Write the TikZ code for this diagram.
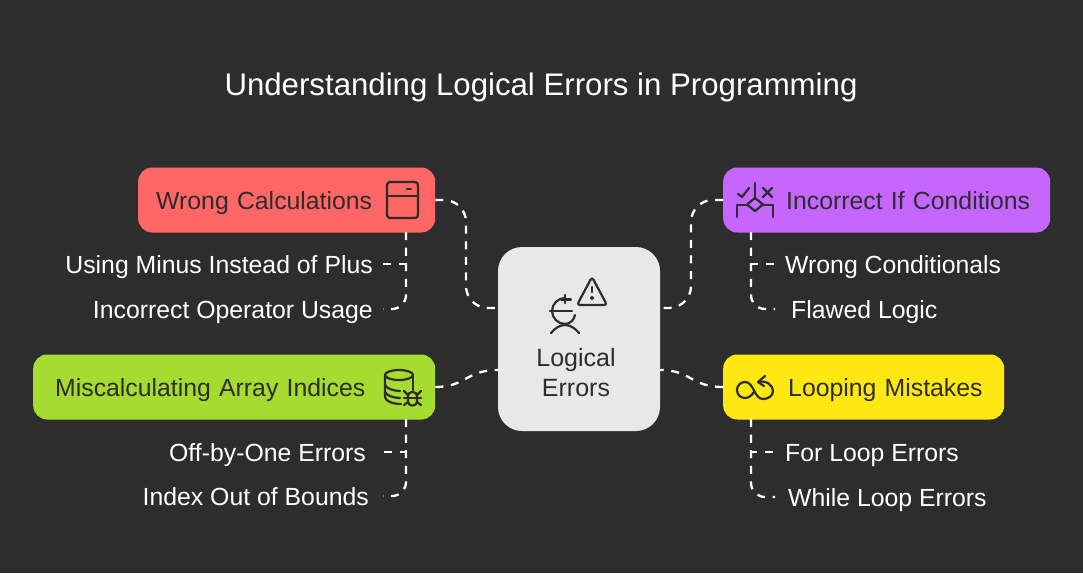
\documentclass[tikz,border=0pt]{standalone}
\usepackage{fontspec}
\setmainfont{Liberation Sans}
\usetikzlibrary{positioning, calc}
\definecolor{bgdark}{HTML}{2D2D2D}
\definecolor{redbox}{HTML}{FF6666}
\definecolor{purplebox}{HTML}{C566FF}
\definecolor{greenbox}{HTML}{A6DB2F}
\definecolor{yellowbox}{HTML}{FFE711}
\definecolor{greybox}{HTML}{E8E8E8}

\begin{document}
\begin{tikzpicture}[
    x=1pt, y=-1pt,
    box/.style={rectangle, rounded corners=14pt, minimum height=65pt, anchor=west, align=left, text=bgdark, inner xsep=0pt, inner ysep=0pt, font=\fontsize{24.8}{24.8}\selectfont, text height=18pt, text depth=0pt},
    centerbox/.style={rectangle, rounded corners=24pt, fill=greybox, minimum width=162pt, minimum height=184pt, inner sep=0pt},
    sublabel/.style={text=white, font=\fontsize{24.8}{24.8}\selectfont, text height=18pt, text depth=0pt, inner ysep=0pt},
    conn/.style={white, line width=2.3pt, dash pattern=on 8pt off 7.6pt},
    icon/.style={bgdark, line width=2.2pt, line cap=round, line join=round}
]
    \fill[bgdark] (0,0) rectangle (1083,573);
    \useasboundingbox (0,0) rectangle (1083,573);

    \node[text=white, font=\fontsize{31.2}{31.2}\selectfont, text height=22pt, text depth=0pt, inner sep=0pt] (title) at (541,84) {Understanding Logical Errors in Programming};

    \node[centerbox] (logical) at (579,339) {};
    \node[text=bgdark, align=center, font=\fontsize{25}{30}\selectfont, inner sep=0pt] (logicaltext) at (576,373) {Logical\\Errors};

    \node[box, fill=redbox, text width=297pt] (wrong) at (138,200) {\hspace*{18pt}Wrong Calculations};
    \node[box, fill=purplebox, text width=327pt] (incorrect) at (723,200) {\hspace*{63pt}Incorrect If Conditions};
    \node[box, fill=greenbox, text width=402pt] (array) at (33,387) {\hspace*{22pt}Miscalculating Array Indices};
    \node[box, fill=yellowbox, text width=281pt] (looping) at (723,387) {\hspace*{65pt}Looping Mistakes};

    \node[sublabel, anchor=east, inner xsep=10pt] (minus) at (383,264) {Using Minus Instead of Plus};
    \node[sublabel, anchor=east, inner xsep=10pt] (operator) at (383,309) {Incorrect Operator Usage};
    \node[sublabel, anchor=east, inner xsep=17pt] (offone) at (383,452) {Off-by-One Errors};
    \node[sublabel, anchor=east, inner xsep=14pt] (bounds) at (383,496) {Index Out of Bounds};
    \node[sublabel, anchor=west, inner xsep=10pt] (conditionals) at (775,264) {Wrong Conditionals};
    \node[sublabel, anchor=west, inner xsep=16pt] (flawed) at (775,309) {Flawed Logic};
    \node[sublabel, anchor=west, inner xsep=10pt] (forloop) at (775,452) {For Loop Errors};
    \node[sublabel, anchor=west, inner xsep=13pt] (whileloop) at (775,497) {While Loop Errors};

    \coordinate (wrongbend) at (466,254);
    \coordinate (incorrectbend) at (691,254);
    \coordinate (logicalNW) at (498,308);
    \coordinate (logicalSW) at (498,370);
    \coordinate (logicalNE) at (660,308);
    \coordinate (logicalSE) at (660,370);
    \coordinate (wrongdrop) at (406,232);
    \coordinate (arraydrop) at (406,419);
    \coordinate (incorrectdrop) at (751,232);
    \coordinate (loopingdrop) at (751,419);

    \draw[conn, rounded corners=22pt] (wrong.east) -| (wrongbend) |- (logicalNW);
    \draw[conn, rounded corners=22pt] (incorrect.west) -| (incorrectbend) |- (logicalNE);
    \draw[conn] (array.east) .. controls (466,387) and (466,370) .. (logicalSW);
    \draw[conn] (looping.west) .. controls (691,387) and (691,370) .. (logicalSE);

    \draw[conn] (wrongdrop) |- (minus.east);
    \draw[conn, rounded corners=14pt] (wrongdrop) |- (operator.east);
    \draw[conn] (arraydrop) |- (offone.east);
    \draw[conn, rounded corners=14pt] (arraydrop) |- (bounds.east);
    \draw[conn] (incorrectdrop) |- (conditionals.west);
    \draw[conn, rounded corners=14pt] (incorrectdrop) |- (flawed.west);
    \draw[conn] (loopingdrop) |- (forloop.west);
    \draw[conn, rounded corners=14pt] (loopingdrop) |- (whileloop.west);

    % fridge
    \draw[icon, rounded corners=3pt] (387,182) rectangle (418,218);
    \draw[icon] (387,196) -- (418,196);
    \draw[icon] (407,189) -- (411,189);

    % warning and person
    \draw[icon, rounded corners=3pt] (592,277) -- (607,305) -- (577,305) -- cycle;
    \draw[icon] (592,287) -- (592,292);
    \fill[bgdark] (592,298) circle[radius=2pt];
    \draw[icon] (565,298) .. controls (558,298) and (552,304) .. (552,311) .. controls (552,318) and (558,324) .. (565,324) .. controls (570,324) and (574,320) .. (575,315);
    \draw[icon] (550,311) -- (572,311);
    \draw[icon] (565,295) -- (565,303);
    \draw[icon] (561,299.5) -- (571,299.5);
    \draw[icon] (551,333) .. controls (555,328) and (560,325) .. (565,325) .. controls (570,325) and (575,328) .. (579,333);

    % condition fork
    \draw[icon] (755,183) -- (755,198);
    \draw[icon] (738,194) -- (742,197) -- (749,188);
    \draw[icon] (763,188) -- (772,197);
    \draw[icon] (772,188) -- (763,197);
    \draw[icon] (755,198) -- (763,204.5) -- (755,211) -- (747,204.5) -- cycle;
    \draw[icon] (737,217) -- (737,205) -- (747,205);
    \draw[icon] (773,217) -- (773,205) -- (763,205);

    % database and bug
    \draw[icon] (399,375) ellipse[x radius=14pt, y radius=5pt];
    \draw[icon] (385,375) -- (385,397) .. controls (385,401) and (393,404) .. (401,404);
    \draw[icon] (413,375) -- (413,390);
    \draw[icon] (385,385) .. controls (386,388) and (393,391) .. (400,391);
    \draw[icon] (385,392) .. controls (386,395) and (393,398) .. (400,398);
    \draw[icon, rounded corners=4pt] (408,392) -- (408,405.5) -- (417,405.5) -- (417,392) -- cycle;
    \draw[icon] (404,391) -- (408,395);
    \draw[icon] (421,391) -- (417,395);
    \draw[icon] (404,398) -- (421,398);
    \draw[icon] (404,405) -- (408,402);
    \draw[icon] (421,405) -- (417,402);

    % loop
    \draw[icon] (765,376) -- (758,382) -- (764,386);
    \draw[icon] (758,382) .. controls (766,380) and (773,385) .. (773,391) .. controls (773,396) and (768,399) .. (763,399) .. controls (754,399) and (754,382) .. (745,382) .. controls (740,382) and (737,386) .. (737,390) .. controls (737,395) and (741,398) .. (745,398) .. controls (749,398) and (752,395) .. (754,392);
\end{tikzpicture}
\end{document}
